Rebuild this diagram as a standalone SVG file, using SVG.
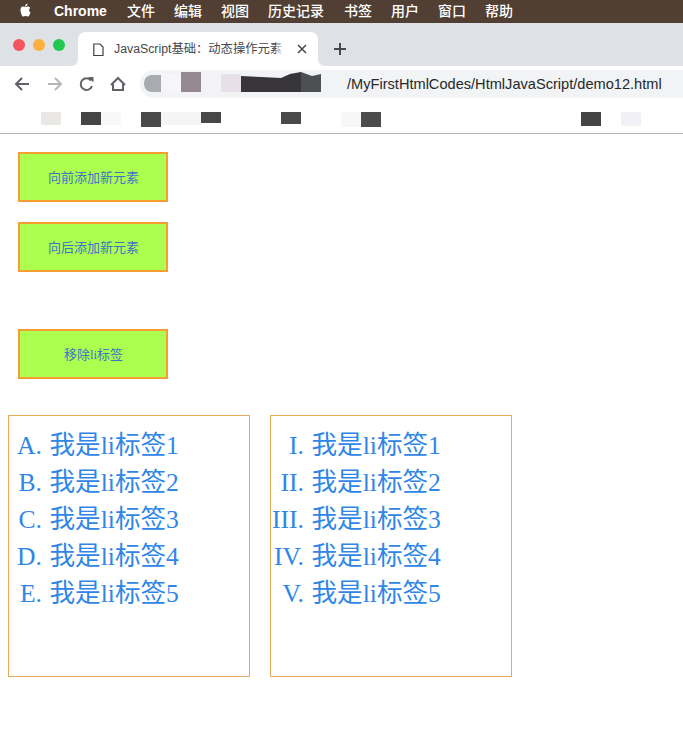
<svg xmlns="http://www.w3.org/2000/svg" width="683" height="743" viewBox="0 0 683 743">
<style>
.menu{font-family:"Noto Sans CJK SC","Liberation Sans",sans-serif;font-size:14px;fill:#fff;font-weight:500}
.ui{font-family:"Liberation Sans","Noto Sans CJK SC",sans-serif}
.btn rect{fill:#adff4f;stroke:#f79d32;stroke-width:2}
.btn text{font-family:"Liberation Serif","Noto Sans CJK SC",serif;font-size:13px;fill:#3f72c8;text-anchor:middle}
.box{fill:#fff;stroke:#e4ab5c;stroke-width:1}
.li{font-family:"Liberation Serif","Noto Sans CJK SC",serif;font-size:25.600px;fill:#2f86e6}
.mk{text-anchor:end}
.ic{fill:none;stroke-width:2}
</style>
<rect width="683" height="743" fill="#fff"/>
<g id="menubar">
<rect width="683" height="23" fill="#523f33"/>
<path d="M27.500 3.500C26 4 25 5 25 6.500C26.500 6.500 27.800 5 27.500 3.500ZM25.500 7C24.500 7 23.800 6.500 22.900 6.500C21.300 6.500 20.500 8.200 20.500 10.200C20.500 12.700 22 16.500 23.300 16.500C24.100 16.500 24.600 15.900 25.500 15.900C26.400 15.900 26.900 16.500 27.800 16.500C29 16.500 30.100 14.400 30.500 12.200C29 11.600 28.500 9 30.200 7.900C29.500 6.900 28.500 6.500 27.700 6.500C26.800 6.500 26.200 7 25.500 7Z" fill="#fff"/>
<text class="ui" x="54" y="16" font-size="14" font-weight="700" fill="#fff">Chrome</text>
<text class="menu" x="127" y="16">文件</text>
<text class="menu" x="174" y="16">编辑</text>
<text class="menu" x="221" y="16">视图</text>
<text class="menu" x="268" y="16">历史记录</text>
<text class="menu" x="344" y="16">书签</text>
<text class="menu" x="391" y="16">用户</text>
<text class="menu" x="438" y="16">窗口</text>
<text class="menu" x="485" y="16">帮助</text>
</g>
<g id="tabstrip">
<rect y="23" width="683" height="43" fill="#dee1e6"/>
<circle cx="19" cy="45" r="6" fill="#f5545c"/>
<circle cx="39" cy="45" r="6" fill="#fbb13c"/>
<circle cx="59" cy="45" r="6" fill="#1fc84f"/>
<path d="M70 66C76 66 78 63 78 58V40C78 35 81 32 86 32H310C315 32 318 35 318 40V58C318 63 320 66 326 66Z" fill="#fff"/>
<path d="M93.800 44H100L103 47V55.500H93.800Z" fill="none" stroke="#3c4043" stroke-width="1.200"/>
<text class="ui" x="114" y="53" font-size="12.300" fill="#45484c">JavaScript基础：动态操作元素</text>
<rect x="276" y="40" width="10" height="20" fill="#fff" opacity=".5"/>
<path d="M298 45L306 53M306 45L298 53" stroke="#45484c" stroke-width="1.500"/>
<path d="M340 43V55M334 49H346" stroke="#45484c" stroke-width="2"/>
</g>
<g id="toolbar">
<rect y="66" width="683" height="34" fill="#fff"/>
<rect x="140" y="70" width="560" height="28" rx="14" fill="#f1f3f4"/>
<path class="ic" stroke="#5f6368" d="M29 84H16M22 78L16 84L22 90"/>
<path class="ic" stroke="#b4b7ba" d="M48 84H61M55 78L61 84L55 90"/>
<path class="ic" stroke="#5f6368" d="M91 80.500A5.800 5.800 0 1 0 92 86"/>
<path d="M88 77L93.500 77L93.500 82.500Z" fill="#5f6368"/>
<path class="ic" stroke="#5f6368" d="M111 85L118 78L125 85M113 84V90H123V84"/>
<path d="M152 75H161V92H152C147 92 144 88 144 83.500C144 79 147 75 152 75Z" fill="#a9abb0"/>
<rect x="161" y="74" width="20" height="18" fill="#f6f6f8"/>
<rect x="181" y="72" width="20" height="20" fill="#948a90"/>
<rect x="221" y="74" width="20" height="18" fill="#e8e0e9"/>
<path d="M241 76L261 77L281 78L290 74L301 72V92H241Z" fill="#37353a"/>
<path d="M301 72L312 76L321 74V92H301Z" fill="#4e4f53"/>
<text class="ui" x="347" y="89" font-size="14.600" fill="#26282b">/MyFirstHtmlCodes/HtmlJavaScript/demo12.html</text>
</g>
<g id="bookmarks">
<rect y="100" width="683" height="33" fill="#fff"/>
<rect x="41" y="112" width="20" height="13" fill="#e9e8e5"/>
<rect x="81" y="112" width="20" height="13" fill="#454545"/>
<rect x="101" y="112" width="20" height="13" fill="#f8f8fa"/>
<rect x="141" y="112" width="20" height="15" fill="#4a4a4a"/>
<rect x="161" y="112" width="40" height="13" fill="#f5f5f5"/>
<rect x="201" y="112" width="20" height="11" fill="#484848"/>
<rect x="281" y="112" width="20" height="12" fill="#4a4a4a"/>
<rect x="341" y="112" width="20" height="15" fill="#f8f6f8"/>
<rect x="361" y="112" width="20" height="15" fill="#4c4c4c"/>
<rect x="581" y="112" width="20" height="14" fill="#444444"/>
<rect x="621" y="112" width="20" height="14" fill="#f0f0f6"/>
<rect y="133" width="683" height="1" fill="#b5b5b5"/>
</g>
<g id="btn-prepend" class="btn"><rect x="19" y="153" width="148" height="48"/><text x="93.500" y="182">向前添加新元素</text></g>
<g id="btn-append" class="btn"><rect x="19" y="223" width="148" height="48"/><text x="93.500" y="252">向后添加新元素</text></g>
<g id="btn-remove" class="btn"><rect x="19" y="330" width="148" height="48"/><text x="93.500" y="359">移除li标签</text></g>
<g id="list-alpha">
<rect class="box" x="8.500" y="415.500" width="241" height="261"/>
<text class="li mk" x="42" y="454">A.</text><text class="li" x="49.500" y="454">我是li标签1</text>
<text class="li mk" x="42" y="491">B.</text><text class="li" x="49.500" y="491">我是li标签2</text>
<text class="li mk" x="42" y="528">C.</text><text class="li" x="49.500" y="528">我是li标签3</text>
<text class="li mk" x="42" y="565">D.</text><text class="li" x="49.500" y="565">我是li标签4</text>
<text class="li mk" x="42" y="602">E.</text><text class="li" x="49.500" y="602">我是li标签5</text>
</g>
<g id="list-roman">
<rect class="box" x="270.500" y="415.500" width="241" height="261"/>
<text class="li mk" x="304" y="454">I.</text><text class="li" x="311.500" y="454">我是li标签1</text>
<text class="li mk" x="304" y="491">II.</text><text class="li" x="311.500" y="491">我是li标签2</text>
<text class="li mk" x="304" y="528">III.</text><text class="li" x="311.500" y="528">我是li标签3</text>
<text class="li mk" x="304" y="565">IV.</text><text class="li" x="311.500" y="565">我是li标签4</text>
<text class="li mk" x="304" y="602">V.</text><text class="li" x="311.500" y="602">我是li标签5</text>
</g>
</svg>
